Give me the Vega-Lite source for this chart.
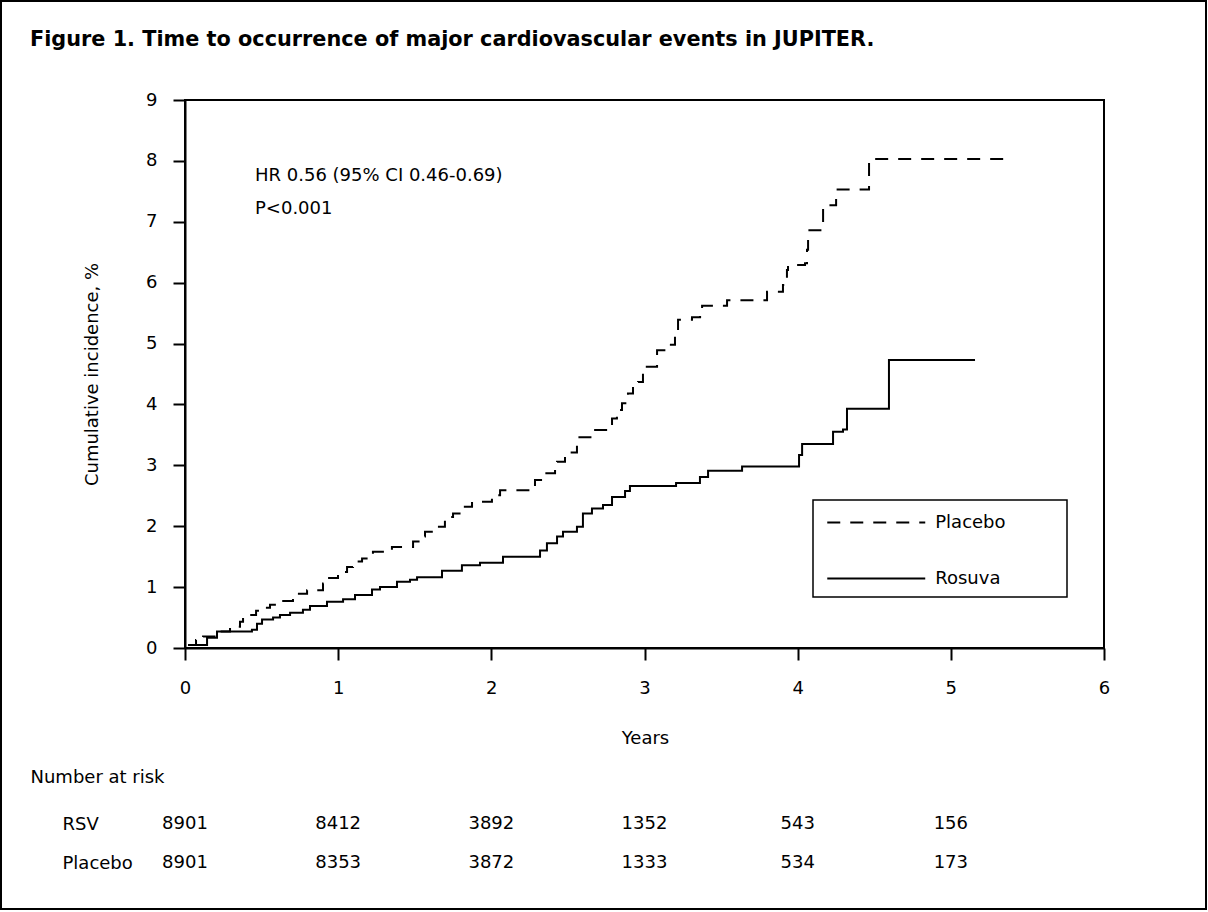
{
  "$schema": "https://vega.github.io/schema/vega-lite/v6.json",
  "width": 1205,
  "height": 908,
  "autosize": "none",
  "padding": {"left": 1, "top": 1, "right": 1, "bottom": 2},
  "background": "white",
  "title": {
    "text": "Figure 1. Time to occurrence of major cardiovascular events in JUPITER.",
    "anchor": "start",
    "frame": "group",
    "orient": "top",
    "offset": -50,
    "dx": 29,
    "font": "DejaVu Sans",
    "fontSize": 20.8,
    "fontWeight": "bold",
    "color": "black"
  },
  "config": {
    "view": {"stroke": "black", "strokeWidth": 2},
    "font": "DejaVu Sans",
    "axis": {
      "grid": false,
      "domainColor": "black",
      "domainWidth": 2,
      "tickColor": "black",
      "tickWidth": 2,
      "labelColor": "black",
      "labelFont": "DejaVu Sans",
      "labelFontSize": 18,
      "labelFlush": false,
      "titleColor": "black",
      "titleFont": "DejaVu Sans",
      "titleFontSize": 18,
      "titleFontWeight": "normal"
    }
  },
  "datasets": {
    "curves": [
      {"arm": "Placebo", "year": 0.020, "pct": 0.05},
      {"arm": "Placebo", "year": 0.072, "pct": 0.13},
      {"arm": "Placebo", "year": 0.118, "pct": 0.19},
      {"arm": "Placebo", "year": 0.209, "pct": 0.27},
      {"arm": "Placebo", "year": 0.294, "pct": 0.35},
      {"arm": "Placebo", "year": 0.359, "pct": 0.43},
      {"arm": "Placebo", "year": 0.379, "pct": 0.54},
      {"arm": "Placebo", "year": 0.464, "pct": 0.61},
      {"arm": "Placebo", "year": 0.503, "pct": 0.66},
      {"arm": "Placebo", "year": 0.555, "pct": 0.71},
      {"arm": "Placebo", "year": 0.620, "pct": 0.77},
      {"arm": "Placebo", "year": 0.705, "pct": 0.89},
      {"arm": "Placebo", "year": 0.797, "pct": 0.95},
      {"arm": "Placebo", "year": 0.901, "pct": 1.06},
      {"arm": "Placebo", "year": 0.934, "pct": 1.15},
      {"arm": "Placebo", "year": 0.999, "pct": 1.25},
      {"arm": "Placebo", "year": 1.058, "pct": 1.33},
      {"arm": "Placebo", "year": 1.097, "pct": 1.42},
      {"arm": "Placebo", "year": 1.156, "pct": 1.47},
      {"arm": "Placebo", "year": 1.227, "pct": 1.58},
      {"arm": "Placebo", "year": 1.351, "pct": 1.66},
      {"arm": "Placebo", "year": 1.489, "pct": 1.75},
      {"arm": "Placebo", "year": 1.534, "pct": 1.83},
      {"arm": "Placebo", "year": 1.567, "pct": 1.91},
      {"arm": "Placebo", "year": 1.619, "pct": 1.99},
      {"arm": "Placebo", "year": 1.697, "pct": 2.15},
      {"arm": "Placebo", "year": 1.750, "pct": 2.21},
      {"arm": "Placebo", "year": 1.808, "pct": 2.32},
      {"arm": "Placebo", "year": 1.874, "pct": 2.40},
      {"arm": "Placebo", "year": 2.004, "pct": 2.51},
      {"arm": "Placebo", "year": 2.057, "pct": 2.59},
      {"arm": "Placebo", "year": 2.252, "pct": 2.66},
      {"arm": "Placebo", "year": 2.285, "pct": 2.76},
      {"arm": "Placebo", "year": 2.337, "pct": 2.87},
      {"arm": "Placebo", "year": 2.416, "pct": 2.95},
      {"arm": "Placebo", "year": 2.429, "pct": 3.06},
      {"arm": "Placebo", "year": 2.481, "pct": 3.21},
      {"arm": "Placebo", "year": 2.559, "pct": 3.46},
      {"arm": "Placebo", "year": 2.664, "pct": 3.58},
      {"arm": "Placebo", "year": 2.788, "pct": 3.77},
      {"arm": "Placebo", "year": 2.820, "pct": 3.91},
      {"arm": "Placebo", "year": 2.853, "pct": 4.02},
      {"arm": "Placebo", "year": 2.892, "pct": 4.18},
      {"arm": "Placebo", "year": 2.925, "pct": 4.29},
      {"arm": "Placebo", "year": 2.958, "pct": 4.37},
      {"arm": "Placebo", "year": 2.990, "pct": 4.62},
      {"arm": "Placebo", "year": 3.082, "pct": 4.89},
      {"arm": "Placebo", "year": 3.147, "pct": 4.98},
      {"arm": "Placebo", "year": 3.199, "pct": 5.11},
      {"arm": "Placebo", "year": 3.219, "pct": 5.39},
      {"arm": "Placebo", "year": 3.310, "pct": 5.43},
      {"arm": "Placebo", "year": 3.363, "pct": 5.52},
      {"arm": "Placebo", "year": 3.376, "pct": 5.62},
      {"arm": "Placebo", "year": 3.539, "pct": 5.71},
      {"arm": "Placebo", "year": 3.800, "pct": 5.85},
      {"arm": "Placebo", "year": 3.904, "pct": 5.96},
      {"arm": "Placebo", "year": 3.930, "pct": 6.21},
      {"arm": "Placebo", "year": 3.937, "pct": 6.29},
      {"arm": "Placebo", "year": 4.048, "pct": 6.32},
      {"arm": "Placebo", "year": 4.061, "pct": 6.54},
      {"arm": "Placebo", "year": 4.068, "pct": 6.86},
      {"arm": "Placebo", "year": 4.166, "pct": 7.27},
      {"arm": "Placebo", "year": 4.251, "pct": 7.53},
      {"arm": "Placebo", "year": 4.466, "pct": 8.03},
      {"arm": "Placebo", "year": 5.373, "pct": 8.03},
      {"arm": "Rosuva", "year": 0.020, "pct": 0.05},
      {"arm": "Rosuva", "year": 0.144, "pct": 0.17},
      {"arm": "Rosuva", "year": 0.209, "pct": 0.27},
      {"arm": "Rosuva", "year": 0.437, "pct": 0.30},
      {"arm": "Rosuva", "year": 0.470, "pct": 0.40},
      {"arm": "Rosuva", "year": 0.503, "pct": 0.47},
      {"arm": "Rosuva", "year": 0.575, "pct": 0.50},
      {"arm": "Rosuva", "year": 0.620, "pct": 0.54},
      {"arm": "Rosuva", "year": 0.686, "pct": 0.58},
      {"arm": "Rosuva", "year": 0.770, "pct": 0.63},
      {"arm": "Rosuva", "year": 0.816, "pct": 0.69},
      {"arm": "Rosuva", "year": 0.927, "pct": 0.76},
      {"arm": "Rosuva", "year": 1.032, "pct": 0.80},
      {"arm": "Rosuva", "year": 1.110, "pct": 0.87},
      {"arm": "Rosuva", "year": 1.221, "pct": 0.96},
      {"arm": "Rosuva", "year": 1.273, "pct": 1.00},
      {"arm": "Rosuva", "year": 1.384, "pct": 1.09},
      {"arm": "Rosuva", "year": 1.469, "pct": 1.12},
      {"arm": "Rosuva", "year": 1.515, "pct": 1.16},
      {"arm": "Rosuva", "year": 1.678, "pct": 1.27},
      {"arm": "Rosuva", "year": 1.808, "pct": 1.36},
      {"arm": "Rosuva", "year": 1.926, "pct": 1.40},
      {"arm": "Rosuva", "year": 2.076, "pct": 1.50},
      {"arm": "Rosuva", "year": 2.318, "pct": 1.60},
      {"arm": "Rosuva", "year": 2.363, "pct": 1.72},
      {"arm": "Rosuva", "year": 2.429, "pct": 1.83},
      {"arm": "Rosuva", "year": 2.468, "pct": 1.91},
      {"arm": "Rosuva", "year": 2.559, "pct": 1.99},
      {"arm": "Rosuva", "year": 2.598, "pct": 2.21},
      {"arm": "Rosuva", "year": 2.657, "pct": 2.29},
      {"arm": "Rosuva", "year": 2.729, "pct": 2.35},
      {"arm": "Rosuva", "year": 2.788, "pct": 2.48},
      {"arm": "Rosuva", "year": 2.873, "pct": 2.58},
      {"arm": "Rosuva", "year": 2.905, "pct": 2.66},
      {"arm": "Rosuva", "year": 3.206, "pct": 2.71},
      {"arm": "Rosuva", "year": 3.362, "pct": 2.81},
      {"arm": "Rosuva", "year": 3.415, "pct": 2.91},
      {"arm": "Rosuva", "year": 3.637, "pct": 2.98},
      {"arm": "Rosuva", "year": 4.009, "pct": 3.17},
      {"arm": "Rosuva", "year": 4.029, "pct": 3.35},
      {"arm": "Rosuva", "year": 4.231, "pct": 3.55},
      {"arm": "Rosuva", "year": 4.296, "pct": 3.59},
      {"arm": "Rosuva", "year": 4.322, "pct": 3.93},
      {"arm": "Rosuva", "year": 4.596, "pct": 4.73},
      {"arm": "Rosuva", "year": 5.158, "pct": 4.73}
    ],
    "notes": [
      {"label": "HR 0.56 (95% CI 0.46-0.69)", "year": 0.457, "pct": 7.75},
      {"label": "P<0.001", "year": 0.457, "pct": 7.21}
    ],
    "risk": [
      {"arm": "RSV", "year": 0, "n": 8901},
      {"arm": "RSV", "year": 1, "n": 8412},
      {"arm": "RSV", "year": 2, "n": 3892},
      {"arm": "RSV", "year": 3, "n": 1352},
      {"arm": "RSV", "year": 4, "n": 543},
      {"arm": "RSV", "year": 5, "n": 156},
      {"arm": "Placebo", "year": 0, "n": 8901},
      {"arm": "Placebo", "year": 1, "n": 8353},
      {"arm": "Placebo", "year": 2, "n": 3872},
      {"arm": "Placebo", "year": 3, "n": 1333},
      {"arm": "Placebo", "year": 4, "n": 534},
      {"arm": "Placebo", "year": 5, "n": 173}
    ]
  },
  "layer": [
    {
      "layer": [
        {
          "data": {"values": [{"box": 1}]},
          "mark": {"type": "rect", "fill": null, "stroke": "black", "strokeWidth": 2},
          "encoding": {
            "x": {"datum": 0, "type": "quantitative"},
            "x2": {"datum": 6},
            "y": {"datum": 0, "type": "quantitative"},
            "y2": {"datum": 9}
          }
        },
        {
          "data": {"name": "curves"},
          "mark": {"type": "line", "interpolate": "step-after", "strokeWidth": 2, "color": "black"},
          "encoding": {
            "x": {
              "field": "year",
              "type": "quantitative",
              "scale": {"domain": [0, 6], "range": [184, 1103], "nice": false, "zero": false},
              "axis": {
                "orient": "bottom",
                "offset": -261,
                "values": [0, 1, 2, 3, 4, 5, 6],
                "format": "d",
                "tickSize": 12,
                "labelPadding": 19,
                "labelFlush": false,
                "title": "Years",
                "titleX": 644,
                "titleY": 90,
                "titleAlign": "center",
                "titleBaseline": "middle"
              }
            },
            "y": {
              "field": "pct",
              "type": "quantitative",
              "scale": {"domain": [0, 9], "range": [647, 99], "nice": false, "zero": false},
              "axis": {
                "orient": "left",
                "offset": -184,
                "values": [0, 1, 2, 3, 4, 5, 6, 7, 8, 9],
                "format": "d",
                "tickSize": 12,
                "labelPadding": 16,
                "labelBaseline": "middle",
                "labelFlush": false,
                "title": "Cumulative incidence, %",
                "titleAngle": -90,
                "titleX": -93,
                "titleY": 373,
                "titleAlign": "center",
                "titleBaseline": "middle"
              }
            },
            "strokeDash": {
              "field": "arm",
              "type": "nominal",
              "scale": {"domain": ["Placebo", "Rosuva"], "range": [[13, 10], [1, 0]]},
              "legend": {
                "title": null,
                "orient": "none",
                "legendX": 812,
                "legendY": 499,
                "strokeColor": "black",
                "fillColor": "white",
                "padding": 9,
                "symbolType": "M-4,0H4M14.53,0.25",
                "symbolSize": 600,
                "symbolStrokeWidth": 1.8,
                "symbolStrokeColor": "black",
                "symbolOffset": 40.75,
                "labelOffset": 45.5,
                "rowPadding": 33,
                "labelFont": "DejaVu Sans",
                "labelFontSize": 18,
                "labelColor": "black",
                "encode": {
                  "legend": {"update": {"strokeWidth": {"value": 1.5}}}
                }
              }
            }
          }
        },
        {
          "data": {"name": "notes"},
          "mark": {"type": "text", "align": "left", "baseline": "middle", "fontSize": 18, "font": "DejaVu Sans", "color": "black"},
          "encoding": {
            "x": {"field": "year", "type": "quantitative"},
            "y": {"field": "pct", "type": "quantitative"},
            "text": {"field": "label"}
          }
        }
      ]
    },
    {
      "data": {"name": "risk"},
      "mark": {"type": "text", "align": "center", "baseline": "middle", "fontSize": 18, "font": "DejaVu Sans", "color": "black"},
      "encoding": {
        "x": {"field": "year", "type": "quantitative"},
        "y": {
          "field": "arm",
          "type": "nominal",
          "sort": ["RSV", "Placebo"],
          "scale": {"type": "point", "domain": ["RSV", "Placebo"], "range": [823, 862], "padding": 0},
          "axis": {
            "orient": "left",
            "offset": -184,
            "domain": false,
            "ticks": false,
            "tickSize": 0,
            "labelAlign": "left",
            "labelBaseline": "middle",
            "labelPadding": 123,
            "title": "Number at risk",
            "titleAngle": 0,
            "titleX": -155,
            "titleY": 776,
            "titleAlign": "left",
            "titleBaseline": "middle"
          }
        },
        "text": {"field": "n"}
      }
    }
  ],
  "resolve": {"scale": {"y": "independent"}, "axis": {"y": "independent"}}
}
